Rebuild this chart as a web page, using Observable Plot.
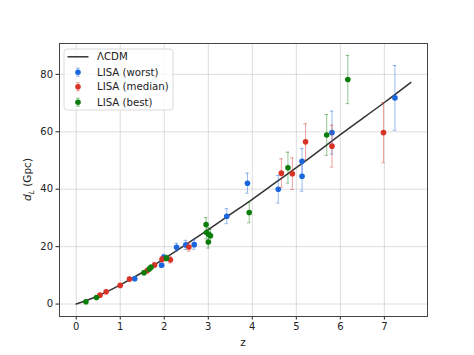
<!DOCTYPE html>
<html>
<head>
<meta charset="utf-8">
<script src="https://cdn.jsdelivr.net/npm/d3@7"></script>
<script src="https://cdn.jsdelivr.net/npm/@observablehq/plot@0.6"></script>
<style>
  body { margin: 0; background: #fff; }
  #chart { position: relative; width: 474px; height: 355px; }
</style>
</head>
<body>
<div id="chart"></div>
<script>
// ΛCDM curve
const lcdmZ  = [0, 0.5, 1, 1.5, 2, 2.5, 3, 3.5, 4, 4.5, 5, 5.5, 6, 6.5, 7, 7.6];
const lcdmDL = [0, 2.9, 6.7, 11.0, 15.8, 20.8, 25.9, 31.2, 36.5, 42.0, 47.5, 53.2, 59.0, 64.6, 70.2, 77.2];

// LISA (worst)
const worstZ   = [1.33, 1.94, 1.99, 2.28, 2.49, 2.68, 3.42, 3.89, 4.59, 5.13, 5.13, 5.81, 7.24];
const worstDL  = [8.8, 13.5, 16.3, 19.8, 20.6, 20.7, 30.6, 42.1, 40.0, 44.5, 49.7, 59.7, 71.8];
const worstErr = [0.6, 0.8, 1.0, 1.4, 1.6, 1.6, 2.6, 3.5, 4.8, 5.2, 4.5, 7.5, 11.3];

// LISA (median)
const medZ   = [0.54, 0.68, 1.00, 1.21, 1.61, 1.78, 1.95, 2.14, 2.56, 4.66, 4.91, 5.21, 5.81, 6.98];
const medDL  = [3.1, 4.3, 6.5, 8.7, 11.6, 13.6, 15.6, 15.4, 19.9, 45.6, 45.4, 56.5, 55.0, 59.7];
const medErr = [0.3, 0.4, 0.5, 0.6, 0.8, 0.9, 1.0, 1.1, 1.5, 5.0, 5.5, 6.3, 7.3, 10.5];

// LISA (best)
const bestZ   = [0.22, 0.46, 1.54, 1.66, 1.70, 2.05, 2.95, 2.96, 3.01, 3.05, 3.00, 3.93, 4.81, 5.69, 6.17];
const bestDL  = [0.8, 2.3, 10.9, 12.2, 12.8, 16.0, 27.7, 24.9, 24.3, 23.8, 21.6, 31.9, 47.5, 58.9, 78.2];
const bestErr = [0.2, 0.3, 0.7, 0.8, 0.8, 1.0, 2.4, 2.2, 2.2, 2.2, 2.1, 3.6, 5.4, 7.1, 8.4];

const xTicks = [0, 1, 2, 3, 4, 5, 6, 7];
const yTicks = [0, 20, 40, 60, 80];
const seriesNames = ["LISA (worst)", "LISA (median)", "LISA (best)"];
const lineName = "ΛCDM";

const colors = ["#1a66dd", "#d93226", "#0b7d0b"];

const lcdm = lcdmZ.map((z, i) => ({z, d: lcdmDL[i]}));
const mk = (Z, D, E) => Z.map((z, i) => ({z, d: D[i], e: E[i]}));
const series = [mk(worstZ, worstDL, worstErr), mk(medZ, medDL, medErr), mk(bestZ, bestDL, bestErr)];

const errMarks = (data, color) => [
  Plot.ruleX(data, {x: "z", y1: r => r.d - r.e, y2: r => r.d + r.e, stroke: color, strokeOpacity: 0.45, strokeWidth: 1}),
  Plot.ruleY(data, {y: r => r.d + r.e, x1: "z", x2: "z", insetLeft: -1.8, insetRight: -1.8, stroke: color, strokeOpacity: 0.45, strokeWidth: 1}),
  Plot.ruleY(data, {y: r => r.d - r.e, x1: "z", x2: "z", insetLeft: -1.8, insetRight: -1.8, stroke: color, strokeOpacity: 0.45, strokeWidth: 1}),
  Plot.dot(data, {x: "z", y: "d", r: 2.8, fill: color, stroke: "none"})
];

const chart = Plot.plot({
  width: 474,
  height: 355,
  marginLeft: 59,
  marginRight: 47,
  marginTop: 43,
  marginBottom: 39,
  style: {fontFamily: "DejaVu Sans", fontSize: "10px", color: "#222", background: "#fff"},
  x: {domain: [-0.38, 7.98]},
  y: {domain: [-4.33, 90.75]},
  marks: [
    Plot.gridX(xTicks, {stroke: "#b0b0b0", strokeOpacity: 0.55, strokeWidth: 0.8}),
    Plot.gridY(yTicks, {stroke: "#b0b0b0", strokeOpacity: 0.55, strokeWidth: 0.8}),
    Plot.axisX({ticks: xTicks, tickSize: 3.5, tickPadding: 3, label: null, fontSize: 10}),
    Plot.axisY({ticks: yTicks, tickSize: 3.5, tickPadding: 3, label: null, fontSize: 10}),
    Plot.line(lcdm, {x: "z", y: "d", stroke: "#333", strokeWidth: 1.5, curve: "natural"}),
    ...series.flatMap((s, i) => errMarks(s, colors[i])),
    Plot.frame({stroke: "#444", strokeWidth: 1})
  ]
});

document.getElementById("chart").appendChild(chart);

const svg = d3.select(chart);

// axis labels
svg.append("text")
  .attr("x", 243).attr("y", 346)
  .attr("text-anchor", "middle")
  .attr("font-size", 10.5).attr("fill", "#222")
  .text("z");

const yl = svg.append("text")
  .attr("transform", "translate(31,179.5) rotate(-90)")
  .attr("text-anchor", "middle")
  .attr("font-size", 10.5).attr("fill", "#222");
yl.append("tspan").attr("font-style", "italic").text("d");
yl.append("tspan").attr("font-style", "italic").attr("font-size", 7.5).attr("dy", 2.5).text("L");
yl.append("tspan").attr("dy", -2.5).text(" (Gpc)");

// legend
const lg = svg.append("g").attr("text-anchor", "start");
lg.append("rect")
  .attr("x", 64).attr("y", 49).attr("width", 109).attr("height", 61)
  .attr("rx", 3).attr("fill", "#fff").attr("fill-opacity", 0.8)
  .attr("stroke", "#d0d0d0").attr("stroke-width", 0.8);
const rowY = [56.8, 72.2, 86.8, 102.2];
lg.append("line")
  .attr("x1", 67.5).attr("x2", 88.5).attr("y1", rowY[0]).attr("y2", rowY[0])
  .attr("stroke", "#333").attr("stroke-width", 1.5);
lg.append("text").attr("x", 97).attr("y", rowY[0]).attr("dy", "0.35em")
  .attr("text-anchor", "start")
  .attr("font-size", 10.2).attr("fill", "#222").text(lineName);
seriesNames.forEach((name, i) => {
  const y = rowY[i + 1], c = colors[i], cx = 78;
  lg.append("line").attr("x1", cx).attr("x2", cx).attr("y1", y - 4).attr("y2", y + 4)
    .attr("stroke", c).attr("stroke-opacity", 0.45);
  [y - 4, y + 4].forEach(yy => lg.append("line").attr("x1", cx - 1.8).attr("x2", cx + 1.8)
    .attr("y1", yy).attr("y2", yy).attr("stroke", c).attr("stroke-opacity", 0.45));
  lg.append("circle").attr("cx", cx).attr("cy", y).attr("r", 2.8).attr("fill", c);
  lg.append("text").attr("x", 97).attr("y", y).attr("dy", "0.35em")
    .attr("text-anchor", "start")
    .attr("font-size", 10.2).attr("fill", "#222").text(name);
});
</script>
</body>
</html>
